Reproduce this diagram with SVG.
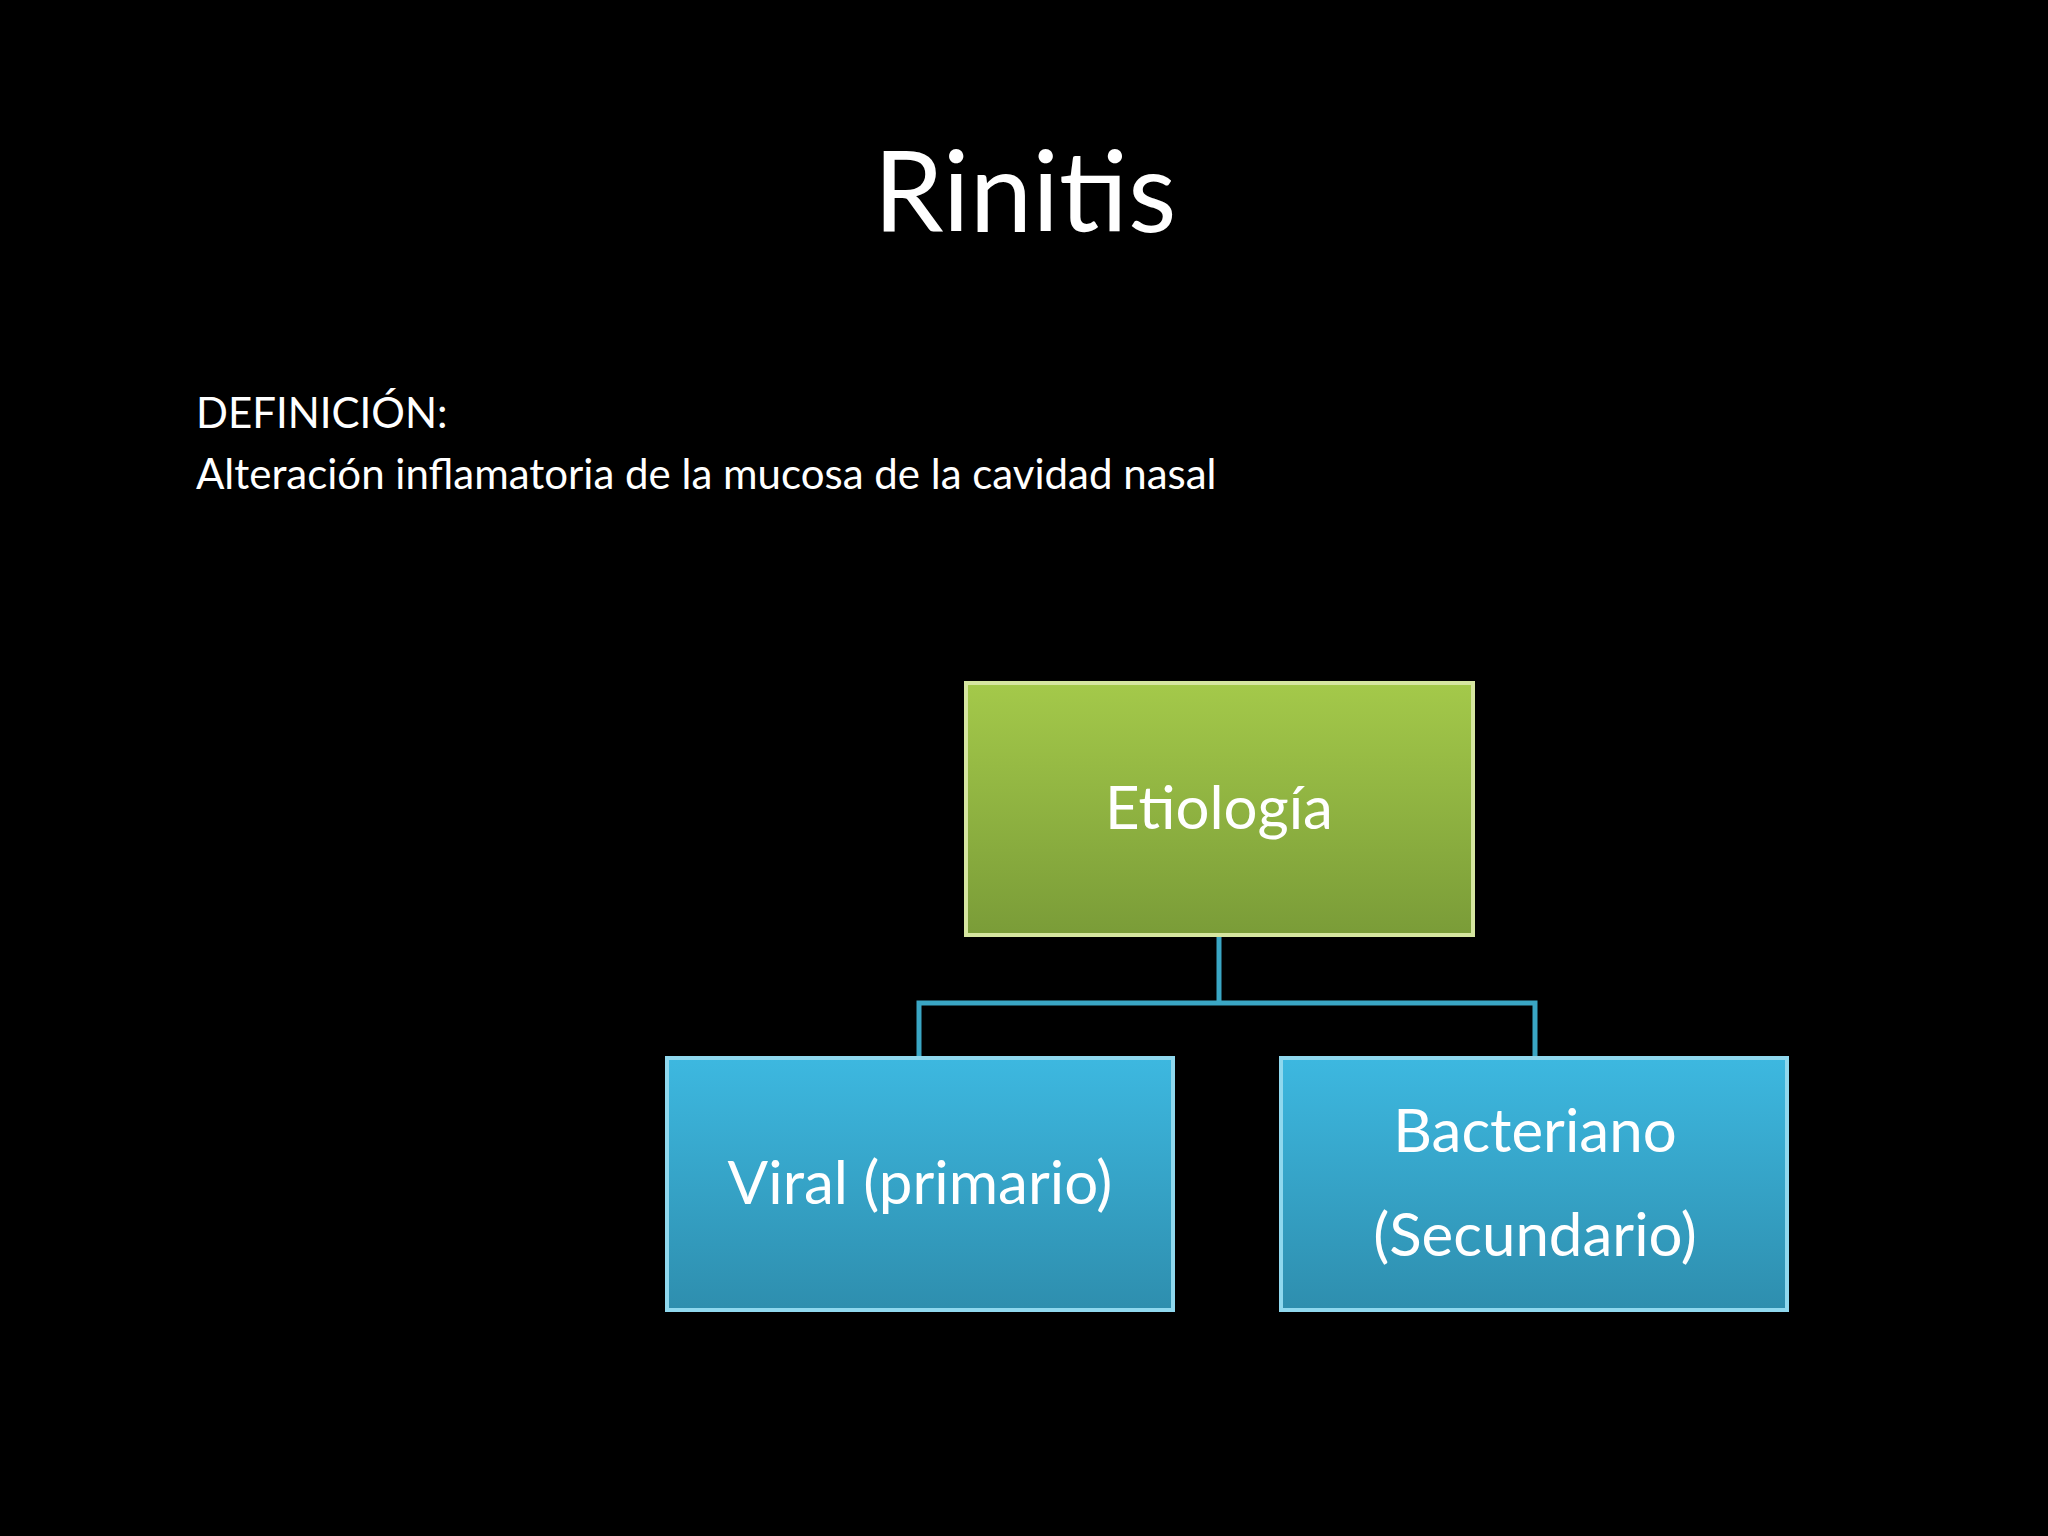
<svg xmlns="http://www.w3.org/2000/svg" width="2048" height="1536" viewBox="0 0 2048 1536">
<defs>
<linearGradient id="g" x1="0" y1="0" x2="0" y2="1"><stop offset="0" stop-color="#a4c94a"/><stop offset="1" stop-color="#7a9c38"/></linearGradient>
<linearGradient id="b" x1="0" y1="0" x2="0" y2="1"><stop offset="0" stop-color="#3db8e0"/><stop offset="1" stop-color="#2e8eae"/></linearGradient>
</defs>
<style>
text{font-family:Lato,"Open Sans",sans-serif;fill:#fff}
.n{font-size:60px;text-anchor:middle}
</style>
<rect width="2048" height="1536" fill="#000"/>
<text x="1025" y="232" font-size="112" text-anchor="middle">Rinitis</text>
<text x="196" y="428" font-size="42">DEFINICIÓN:</text>
<text x="196" y="489" font-size="42">Alteración inflamatoria de la mucosa de la cavidad nasal</text>
<g id="connectors" fill="none" stroke="#3aa6c4" stroke-width="5">
<path d="M1219 935V1003H919V1058M1219 1003H1535V1058"/>
</g>
<g id="etiologia"><rect x="966" y="683" width="507" height="252" fill="url(#g)" stroke="#d6e6a0" stroke-width="4"/><text class="n" x="1219" y="829">Etiología</text></g>
<g id="viral"><rect x="667" y="1058" width="506" height="252" fill="url(#b)" stroke="#8fd8ee" stroke-width="4"/><text class="n" x="920" y="1204">Viral (primario)</text></g>
<g id="bacteriano"><rect x="1281" y="1058" width="506" height="252" fill="url(#b)" stroke="#8fd8ee" stroke-width="4"/><text class="n" x="1535" y="1152">Bacteriano</text><text class="n" x="1535" y="1256">(Secundario)</text></g>
</svg>
